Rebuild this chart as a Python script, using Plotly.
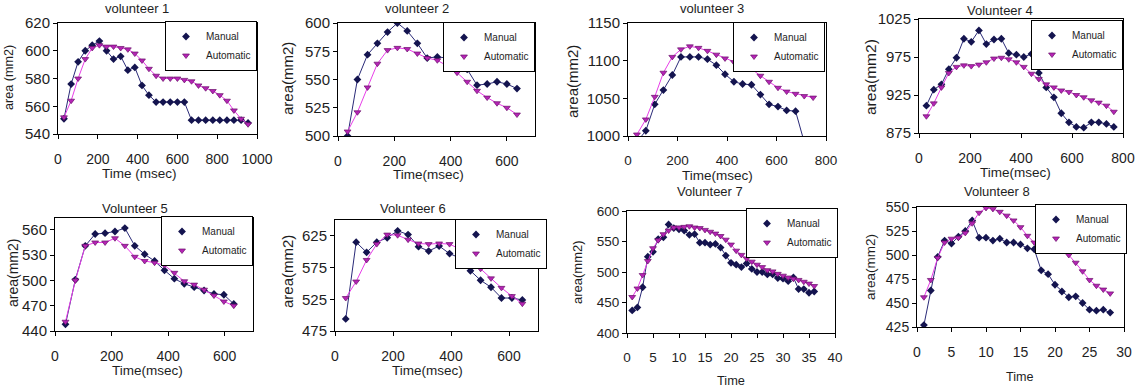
import plotly.graph_objects as go

W, H = 1135, 388

# ---------------- data ----------------
v1_time = [30, 66, 101, 137, 172, 208, 244, 279, 315, 351, 386, 422, 457, 493, 528, 564, 600, 635, 671, 706, 742, 778, 813, 849, 884, 920, 955]
v1_manual = [551, 576, 592, 600, 604, 607, 600, 594, 596, 586, 588, 575, 568, 563, 563, 563, 563, 563, 550, 550, 550, 550, 550, 550, 550, 550, 548]
v1_auto = [552, 564, 580, 594, 602, 604, 603, 603, 602, 601, 598, 593, 587, 582, 580, 580, 580, 579, 578, 575, 573, 571, 568, 564, 557, 551, 547]

v2_time = [34, 69, 105, 140, 176, 211, 246, 282, 317, 353, 388, 423, 459, 494, 530, 565, 600, 636]
v2_manual = [500, 550, 572, 582, 592, 600, 593, 582, 569, 570, 569, 564, 559, 545, 546, 548, 546, 542]
v2_auto = [504, 521, 543, 564, 576, 578, 577, 573, 569, 567, 562, 556, 548, 540, 534, 529, 525, 519]

v3_time = [36, 72, 108, 143, 179, 214, 250, 285, 321, 357, 392, 428, 463, 499, 535, 570, 606, 641, 677, 712, 748]
v3_manual = [992, 1007, 1042, 1061, 1081, 1105, 1105, 1105, 1102, 1094, 1082, 1072, 1069, 1068, 1055, 1042, 1039, 1034, 1033, 992]
v3_auto = [1002, 1022, 1052, 1084, 1105, 1115, 1119, 1117, 1113, 1108, 1103, 1098, 1094, 1089, 1080, 1072, 1064, 1059, 1056, 1053, 1051]

v4_time = [29, 58, 88, 117, 147, 176, 205, 235, 264, 294, 323, 352, 382, 411, 441, 470, 499, 529, 558, 588, 617, 646, 676, 705, 735, 764]
v4_manual = [911, 932, 939, 959, 974, 999, 995, 1010, 992, 998, 999, 980, 978, 975, 979, 954, 935, 922, 901, 889, 883, 882, 889, 889, 887, 883]
v4_auto = [897, 914, 935, 954, 962, 964, 963, 965, 968, 973, 974, 972, 968, 962, 953, 946, 939, 935, 931, 929, 925, 922, 918, 915, 911, 903]

v5_time = [37, 72, 107, 142, 177, 212, 247, 282, 317, 352, 387, 422, 457, 492, 527, 562, 597, 632]
v5_manual = [448, 501, 541, 555, 556, 558, 562, 541, 531, 523, 512, 502, 496, 492, 488, 484, 483, 472]
v5_auto = [451, 500, 541, 545, 545, 550, 541, 528, 523, 521, 518, 509, 499, 495, 489, 482, 475, 470]

v6_time = [37, 73, 109, 144, 180, 216, 252, 288, 323, 359, 395, 431, 467, 502, 538, 574, 610, 646]
v6_manual = [494, 615, 599, 615, 622, 633, 627, 608, 601, 609, 597, 590, 570, 555, 544, 527, 527, 524]
v6_auto = [527, 553, 587, 612, 627, 626, 619, 613, 612, 613, 612, 604, 590, 573, 558, 543, 530, 518]

v7_time = list(range(1, 37))
v7_manual = [437, 442, 475, 525, 533, 554, 557, 578, 572, 570, 568, 561, 562, 548, 548, 545, 546, 540, 527, 515, 512, 508, 514, 505, 500, 500, 496, 496, 490, 489, 485, 491, 472, 472, 466, 468]
v7_auto = [459, 473, 495, 518, 539, 552, 562, 568, 573, 573, 574, 575, 573, 572, 569, 566, 563, 559, 553, 545, 535, 528, 522, 517, 512, 508, 503, 501, 497, 494, 491, 489, 487, 484, 481, 477]

v8_time = list(range(1, 29))
v8_manual = [427, 463, 498, 515, 512, 519, 525, 536, 518, 518, 515, 517, 513, 513, 511, 507, 506, 484, 480, 469, 462, 456, 457, 450, 443, 442, 443, 440]
v8_auto = [456, 474, 497, 513, 517, 518, 523, 533, 544, 549, 548, 545, 541, 536, 529, 520, 513, 511, 510, 511, 507, 500, 492, 483, 474, 468, 464, 460]

titles = ["volunteer 1", "volunteer 2", "volunteer 3", "Volunteer 4",
          "Volunteer 5", "Volunteer 6", "Volunteer 7", "Volunteer 8"]
x_titles = ["Time (msec)", "Time(msec)", "Time(msec)", "Time(msec)",
            "Time(msec)", "Time(msec)", "Time", "Time"]
y_titles = ["area (mm2)", "area(mm2)", "area(mm2)", "area(mm2)",
            "area(mm2)", "area(mm2)", "area(mm2)", "area(mm2)"]
series_names = ["Manual", "Automatic"]

times = [v1_time, v2_time, v3_time, v4_time, v5_time, v6_time, v7_time, v8_time]
manuals = [v1_manual, v2_manual, v3_manual, v4_manual, v5_manual, v6_manual, v7_manual, v8_manual]
autos = [v1_auto, v2_auto, v3_auto, v4_auto, v5_auto, v6_auto, v7_auto, v8_auto]

# ---------------- layout specs (pixels) ----------------
panels = [
    dict(box=(58, 257, 23, 134), xr=(0, 1000), xd=200, yr=(540, 620), y0=540, yd=20,
         title=(137, 8, 13), xt=(139, 173, 13.5), yt=(9, 78, 12.6), leg=(257, 21), ytf=15, xtf=14),
    dict(box=(338, 535, 23, 136), xr=(0, 700), xd=200, yr=(500, 600), y0=500, yd=25,
         title=(417, 8, 13), xt=(428, 175, 13.5), yt=(288, 79, 15), leg=(535, 22), ytf=15, xtf=14),
    dict(box=(628, 826, 23, 136), xr=(0, 800), xd=200, yr=(1000, 1150), y0=1000, yd=50,
         title=(712, 8, 13), xt=(717, 176, 13.5), yt=(572, 82, 15), leg=(825, 22), ytf=15, xtf=13.5),
    dict(box=(919, 1123, 19, 133), xr=(0, 800), xd=200, yr=(875, 1025), y0=875, yd=50,
         title=(1000, 10, 13), xt=(1015, 172, 13.5), yt=(871, 77, 15.5), leg=(1123, 20), ytf=15, xtf=14),
    dict(box=(55, 253, 218, 331), xr=(0, 700), xd=200, yr=(440, 574), y0=440, yd=30,
         title=(135, 208, 13), xt=(147, 370, 13.5), yt=(13, 273, 14), leg=(253, 216), ytf=15, xtf=14),
    dict(box=(335, 538, 220, 331), xr=(0, 700), xd=200, yr=(475, 650), y0=475, yd=50,
         title=(413, 208, 13), xt=(427, 370, 13.5), yt=(287, 272, 15), leg=(547, 219), ytf=15, xtf=14),
    dict(box=(627, 835, 211, 333), xr=(0, 40), xd=5, yr=(400, 600), y0=400, yd=50,
         title=(710, 191, 13), xt=(731, 380, 12.8), yt=(577, 272, 13), leg=(838, 208), ytf=13.5, xtf=13.5),
    dict(box=(917, 1124, 207, 327), xr=(0, 30), xd=5, yr=(425, 550), y0=425, yd=25,
         title=(997, 191, 13), xt=(1020, 377, 12.6), yt=(870, 267, 13.5), leg=(1127, 204), ytf=14, xtf=14),
]

MAN_COLOR = "#14144f"
MAN_LINE = "#2a2a78"
AUTO_FILL = "#b524b5"
AUTO_EDGE = "#6a106a"
AUTO_LINE = "#e83ee8"
FONT = "Liberation Sans, Arial, sans-serif"
TXT = "#1e1e1e"


def fx(p):
    return p / W


def fy(p):
    return 1 - p / H


fig = go.Figure()
layout = dict(template="none", width=W, height=H,
              margin=dict(l=0, r=0, t=0, b=0, pad=0, autoexpand=False),
              paper_bgcolor="white", plot_bgcolor="white", showlegend=True,
              font=dict(family=FONT, color=TXT))
annotations = []

for i, p in enumerate(panels):
    n = i + 1
    xa = "x" if n == 1 else f"x{n}"
    ya = "y" if n == 1 else f"y{n}"
    lg = "legend" if n == 1 else f"legend{n}"
    l, r, t, b = p["box"]

    # data traces
    fig.add_trace(go.Scatter(
        x=times[i], y=manuals[i], mode="lines+markers", name=series_names[0],
        xaxis=xa, yaxis=ya, showlegend=False,
        line=dict(color=MAN_LINE, width=1),
        marker=dict(symbol="diamond", size=6, color=MAN_COLOR,
                    line=dict(color=MAN_COLOR, width=0))))
    fig.add_trace(go.Scatter(
        x=times[i], y=autos[i], mode="lines+markers", name=series_names[1],
        xaxis=xa, yaxis=ya, showlegend=False,
        line=dict(color=AUTO_LINE, width=1),
        marker=dict(symbol="triangle-down", size=6, color=AUTO_FILL,
                    line=dict(color=AUTO_EDGE, width=0.7))))
    # legend entries (markers only, like the original legend)
    fig.add_trace(go.Scatter(
        x=[None], y=[None], mode="markers", name=series_names[0],
        xaxis=xa, yaxis=ya, legend=lg,
        marker=dict(symbol="diamond", size=6, color=MAN_COLOR)))
    fig.add_trace(go.Scatter(
        x=[None], y=[None], mode="markers", name=series_names[1],
        xaxis=xa, yaxis=ya, legend=lg,
        marker=dict(symbol="triangle-down", size=6, color=AUTO_FILL,
                    line=dict(color=AUTO_EDGE, width=0.7))))

    xkey = "xaxis" if n == 1 else f"xaxis{n}"
    ykey = "yaxis" if n == 1 else f"yaxis{n}"
    common = dict(showline=True, linecolor="#000", linewidth=1, mirror=True,
                  ticks="outside", ticklen=4, tickcolor="#000", tickwidth=1,
                  showgrid=False, zeroline=False, fixedrange=True, automargin=False)
    layout[xkey] = dict(common, domain=[fx(l), fx(r)], anchor=ya,
                        range=list(p["xr"]), tick0=0, dtick=p["xd"],
                        tickfont=dict(size=p["xtf"], color=TXT, family=FONT),
                        ticklabelstandoff=8)
    layout[ykey] = dict(common, domain=[fy(b), fy(t)], anchor=xa,
                        range=list(p["yr"]), tick0=p["y0"], dtick=p["yd"],
                        tickfont=dict(size=p["ytf"], color=TXT, family=FONT))
    lx, ly = p["leg"]
    layout[lg] = dict(x=fx(lx), y=fy(ly), xanchor="right", yanchor="top",
                      xref="paper", yref="paper",
                      bgcolor="white", bordercolor="#000", borderwidth=1,
                      font=dict(size=10, color=TXT, family=FONT),
                      itemwidth=30, tracegroupgap=0)

    tx, ty, ts = p["title"]
    annotations.append(dict(text=titles[i], x=fx(tx), y=fy(ty), xref="paper", yref="paper",
                            showarrow=False, xanchor="center", yanchor="middle",
                            font=dict(size=ts, color=TXT, family=FONT)))
    ax_, ay_, as_ = p["xt"]
    annotations.append(dict(text=x_titles[i], x=fx(ax_), y=fy(ay_), xref="paper", yref="paper",
                            showarrow=False, xanchor="center", yanchor="middle",
                            font=dict(size=as_, color=TXT, family=FONT)))
    bx, by, bs = p["yt"]
    annotations.append(dict(text=y_titles[i], x=fx(bx), y=fy(by), xref="paper", yref="paper",
                            showarrow=False, xanchor="center", yanchor="middle", textangle=-90,
                            font=dict(size=bs, color=TXT, family=FONT)))

layout["annotations"] = annotations
fig.update_layout(**layout)
fig.write_html("out.html", config={"displayModeBar": False},
               post_script="document.body.style.margin='0';document.body.style.padding='0';")
